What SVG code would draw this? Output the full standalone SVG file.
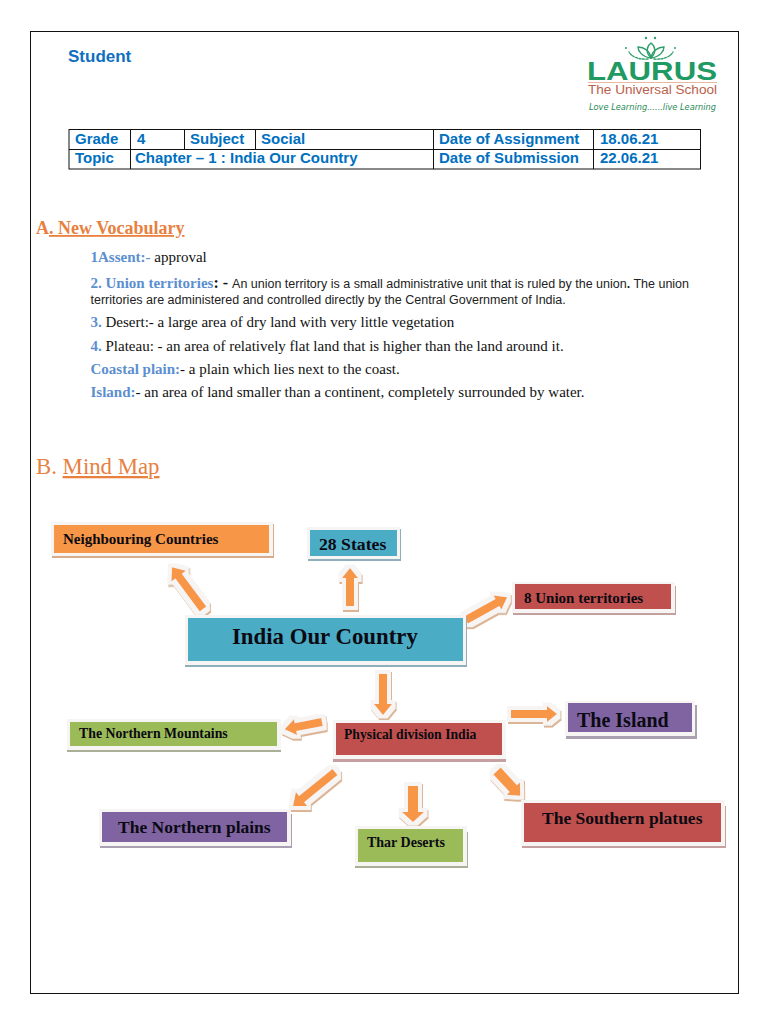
<svg xmlns="http://www.w3.org/2000/svg" width="768" height="1024" viewBox="0 0 768 1024">
<style>
.sans{font-family:"Liberation Sans",Arial,sans-serif}
.serif{font-family:"Liberation Serif","Times New Roman",serif}
.tb{font-family:"Liberation Sans",Arial,sans-serif;font-weight:700;font-size:15px;fill:#0070c0}
.voc{font-family:"Liberation Serif",serif;font-size:15px;fill:#111}
.blue{font-weight:700;fill:#5b8fd0}
.small{font-family:"Liberation Sans",Arial,sans-serif;font-size:12.500px;fill:#222}
.lbl{font-family:"Liberation Serif",serif;font-weight:700;fill:#0b0a12}
.halo{fill:#f6f5f4}
.arrow{fill:#f79646}
line.t{stroke:#111;stroke-width:1}
</style>
<defs>
<filter id="bevel" x="-40%" y="-40%" width="180%" height="180%">
<feMorphology in="SourceAlpha" operator="dilate" radius="3.5" result="d"/>
<feOffset in="d" dx="1" dy="1.5" result="o"/>
<feFlood flood-color="#dcb596"/><feComposite in2="o" operator="in" result="s"/>
<feFlood flood-color="#f6f5f4"/><feComposite in2="d" operator="in" result="h"/>
<feMerge><feMergeNode in="s"/><feMergeNode in="h"/><feMergeNode in="SourceGraphic"/></feMerge>
</filter>
</defs>
<rect width="768" height="1024" fill="#fff"/>
<rect x="30.500" y="31.500" width="708" height="962" fill="none" stroke="#111" stroke-width="1"/>
<text x="68" y="62" class="sans" font-weight="700" font-size="17" fill="#0f6fc0">Student</text>

<g id="logo">
<g fill="none" stroke="#2f9e6a" stroke-width="1.400" stroke-linecap="round">
<path d="M651,58 C645,52 647,46 651,43 C655,46 657,52 651,58Z"/>
<path d="M651,58 C642,57 638,51 638,47 C644,47 650,51 651,58Z"/>
<path d="M651,58 C660,57 664,51 664,47 C658,47 652,51 651,58Z"/>
<path d="M648,59 C638,60 631,56 629,52" stroke-dasharray="2 1.500"/>
<path d="M654,59 C664,60 671,56 673,52" stroke-dasharray="2 1.500"/>
</g>
<g fill="#2f9e6a"><circle cx="646" cy="38" r="1.200"/><circle cx="655" cy="38" r="1.200"/><circle cx="626" cy="48" r="1"/><circle cx="675" cy="48" r="1"/></g>
<text x="587" y="80" class="sans" font-weight="700" font-size="25" fill="#1f9a62" textLength="130" lengthAdjust="spacingAndGlyphs">LAURUS</text>
<rect x="588" y="82" width="129" height="1" fill="#e8b9a0"/>
<text x="588" y="94" class="sans" font-size="12" fill="#b9604a" textLength="129" lengthAdjust="spacingAndGlyphs">The Universal School</text>
<text x="589" y="110" font-family="'DejaVu Sans',sans-serif" font-style="italic" font-size="9" fill="#1f8a55" textLength="127" lengthAdjust="spacingAndGlyphs">Love Learning......live Learning</text>
</g>

<g id="table">
<rect x="69" y="129.500" width="631.500" height="39.500" fill="none" stroke="#111"/>
<line class="t" x1="69" y1="149.500" x2="700" y2="149.500"/>
<line class="t" x1="130.500" y1="129" x2="130.500" y2="169"/>
<line class="t" x1="184.500" y1="129" x2="184.500" y2="149"/>
<line class="t" x1="255.500" y1="129" x2="255.500" y2="149"/>
<line class="t" x1="433.500" y1="129" x2="433.500" y2="169"/>
<line class="t" x1="593.500" y1="129" x2="593.500" y2="169"/>
<text x="75" y="144" class="tb">Grade</text>
<text x="137" y="144" class="tb">4</text>
<text x="190" y="144" class="tb">Subject</text>
<text x="261" y="144" class="tb">Social</text>
<text x="439" y="144" class="tb">Date of Assignment</text>
<text x="600" y="144" class="tb">18.06.21</text>
<text x="75" y="163" class="tb">Topic</text>
<text x="135" y="163" class="tb">Chapter – 1 : India Our Country</text>
<text x="439" y="163" class="tb">Date of Submission</text>
<text x="600" y="163" class="tb">22.06.21</text>
</g>

<g id="vocabulary">
<text x="36" y="234" class="serif" font-weight="700" font-size="18" fill="#e8803f">A<tspan text-decoration="underline">. New Vocabulary</tspan></text>
<text x="90.500" y="262" class="voc"><tspan class="blue">1Assent:-</tspan> approval</text>
<text x="90.500" y="288" class="voc"><tspan class="blue">2. Union territories</tspan><tspan font-weight="700" fill="#111" font-size="16">: - </tspan><tspan class="small">An union territory is a small administrative unit that is ruled by the union</tspan><tspan class="small" font-weight="700">.</tspan><tspan class="small"> The union</tspan></text>
<text x="90.500" y="304" class="small">territories are administered and controlled directly by the Central Government of India.</text>
<text x="90.500" y="327" class="voc"><tspan class="blue">3.</tspan> Desert:- a large area of dry land with very little vegetation</text>
<text x="90.500" y="351" class="voc"><tspan class="blue">4.</tspan> Plateau: - an area of relatively flat land that is higher than the land around it.</text>
<text x="90.500" y="374" class="voc"><tspan class="blue">Coastal plain:</tspan>- a plain which lies next to the coast.</text>
<text x="90.500" y="397" class="voc"><tspan class="blue">Island:</tspan>- an area of land smaller than a continent, completely surrounded by water.</text>
<text x="36" y="474" class="serif" font-size="22.800" fill="#e8803f">B. <tspan text-decoration="underline">Mind Map</tspan></text>
</g>

<g id="connectors" class="arrow">
<g filter="url(#bevel)"><path transform="translate(203,609) rotate(-126.500)" d="M0,-4 H41 V-9 L52,0 L41,9 V4 H0Z"/></g>
<g filter="url(#bevel)"><path transform="translate(350,606) rotate(-90)" d="M0,-4 H28 V-8 L38,0 L28,8 V4 H0Z"/></g>
<g filter="url(#bevel)"><path transform="translate(466,620) rotate(-29)" d="M0,-4 H36 V-8 L47,0 L36,8 V4 H0Z"/></g>
<g filter="url(#bevel)"><path transform="translate(383,674) rotate(90)" d="M0,-4 H30 V-9 L41,0 L30,9 V4 H0Z"/></g>
<g filter="url(#bevel)"><path transform="translate(322,722) rotate(169)" d="M0,-4 H27 V-8 L38,0 L27,8 V4 H0Z"/></g>
<g filter="url(#bevel)"><path transform="translate(511,714) rotate(0)" d="M0,-4 H36 V-8 L46,0 L36,8 V4 H0Z"/></g>
<g filter="url(#bevel)"><path transform="translate(335,772) rotate(141)" d="M0,-4 H43 V-9 L54,0 L43,9 V4 H0Z"/></g>
<g filter="url(#bevel)"><path transform="translate(413,786) rotate(90)" d="M0,-5 H26 V-11 L36,0 L26,11 V5 H0Z"/></g>
<g filter="url(#bevel)"><path transform="translate(497,771) rotate(47)" d="M0,-5 H24 V-9 L34,0 L24,9 V5 H0Z"/></g>
</g>

<g id="n-neighbouring"><rect x="52" y="524" width="222" height="34" fill="#d8ab8a"/><rect class="halo" x="51" y="522" width="222" height="34"/><rect x="54" y="525" width="215" height="28" fill="#f79646"/><text x="63" y="544" class="lbl" font-size="15">Neighbouring Countries</text></g>
<g id="n-states"><rect x="308" y="529" width="93" height="32" fill="#8fb0bb"/><rect class="halo" x="307" y="527" width="93" height="32"/><rect x="310" y="530" width="87" height="26" fill="#4bacc6"/><text x="319" y="550" class="lbl" font-size="17.700">28 States</text></g>
<g id="n-india"><rect x="185" y="617" width="282" height="50" fill="#8fb0bb"/><rect class="halo" x="185" y="615" width="281" height="50"/><rect x="188" y="618" width="275" height="43" fill="#4bacc6"/><text x="232" y="644" class="lbl" font-size="22.800">India Our Country</text></g>
<g id="n-union"><rect x="513" y="586" width="163" height="29" fill="#c4a0a0"/><rect class="halo" x="512" y="582" width="163" height="31"/><rect x="515" y="584" width="156" height="25" fill="#c0504d"/><text x="524" y="603" class="lbl" font-size="15">8 Union territories</text></g>
<g id="n-island"><rect x="566" y="705" width="131" height="34" fill="#a9a0b2"/><rect class="halo" x="565" y="701" width="130" height="35"/><rect x="568" y="703" width="124" height="29" fill="#8064a2"/><text x="577" y="727" class="lbl" font-size="20">The Island</text></g>
<g id="n-physical"><rect x="333" y="723" width="173" height="39" fill="#c4a0a0"/><rect class="halo" x="333" y="720" width="173" height="39"/><rect x="336" y="723" width="166" height="32" fill="#c0504d"/><text x="344" y="739" class="lbl" font-size="13.700">Physical division India</text></g>
<g id="n-mountains"><rect x="67" y="724" width="214" height="28" fill="#a9b096"/><rect class="halo" x="67" y="719" width="214" height="31"/><rect x="70" y="722" width="207" height="24" fill="#9bbb59"/><text x="79" y="738" class="lbl" font-size="13.800">The Northern Mountains</text></g>
<g id="n-plains"><rect x="100" y="814" width="192" height="34" fill="#a9a0b2"/><rect class="halo" x="99" y="809" width="192" height="37"/><rect x="102" y="812" width="185" height="30" fill="#8064a2"/><text x="118" y="833" class="lbl" font-size="17.500">The Northern plains</text></g>
<g id="n-thar"><rect x="355" y="832" width="113" height="36" fill="#a9b096"/><rect class="halo" x="355" y="826" width="112" height="40"/><rect x="358" y="829" width="105" height="33" fill="#9bbb59"/><text x="367" y="847" class="lbl" font-size="14">Thar Deserts</text></g>
<g id="n-southern"><rect x="522" y="806" width="204" height="42" fill="#c4a0a0"/><rect class="halo" x="521" y="800" width="204" height="46"/><rect x="524" y="803" width="197" height="39" fill="#c0504d"/><text x="542" y="824" class="lbl" font-size="17.500">The Southern platues</text></g>
</svg>
